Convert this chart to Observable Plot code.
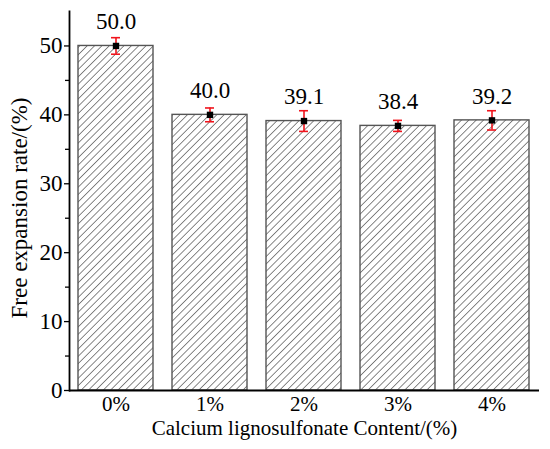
<!DOCTYPE html>
<html>
<head>
<meta charset="utf-8">
<script src="https://cdn.jsdelivr.net/npm/d3@7"></script>
<script src="https://cdn.jsdelivr.net/npm/@observablehq/plot@0.6"></script>
<style>
  body { margin: 0; background: #fff; }
</style>
</head>
<body>
<div id="chart"></div>
<script>
const contents = ['0%', '1%', '2%', '3%', '4%']
const rates = [50.0, 40.0, 39.1, 38.4, 39.2]
const errors = [1.2, 1.0, 1.5, 0.8, 1.4]
const yTicks = [0, 10, 20, 30, 40, 50]
const yMinor = [5, 15, 25, 35, 45]

const data = contents.map((c, i) => ({content: c, rate: rates[i], err: errors[i]}))

const font = 'Liberation Serif, Times New Roman, serif'

let chart = Plot.plot({
  width: 550,
  height: 449,
  marginLeft: 69,
  marginRight: 11,
  marginTop: 11,
  marginBottom: 59,
  x: {domain: contents, paddingInner: 0.2, paddingOuter: 0.1},
  y: {domain: [0, 55]},
  marks: [
    Plot.barY(data, {x: 'content', y: 'rate', fill: 'url(#hatch)', stroke: '#555', strokeWidth: 1.4}),
    // error bars
    Plot.ruleX(data, {x: 'content', y1: d => d.rate - d.err, y2: d => d.rate + d.err, stroke: '#f0141c', strokeWidth: 1.6}),
    Plot.tickY(data, {x: 'content', y: d => d.rate - d.err, stroke: '#f0141c', strokeWidth: 1.6, insetLeft: 33, insetRight: 33}),
    Plot.tickY(data, {x: 'content', y: d => d.rate + d.err, stroke: '#f0141c', strokeWidth: 1.6, insetLeft: 33, insetRight: 33}),
    Plot.dot(data, {x: 'content', y: 'rate', symbol: 'square', fill: '#000', r: 3.6}),
    Plot.text(data, {x: 'content', y: 'rate', text: d => d.rate.toFixed(1), dy: -24, fontSize: 23, fill: '#000'}),
    // axes
    Plot.axisY(yTicks, {tickSize: 5, tickPadding: 2, fontSize: 23, stroke: '#000', strokeWidth: 1.3, label: null}),
    Plot.axisY(yMinor, {tickSize: 4, text: null, label: null, stroke: '#000', strokeWidth: 1.3}),
    Plot.text(['Free expansion rate/(%)'], {frameAnchor: 'left', textAnchor: 'middle', rotate: -90, dx: -50, dy: 7, fontSize: 23, fill: '#000'}),
    Plot.axisX({tickSize: 0, tickPadding: 6, fontSize: 21,
      label: 'Calcium lignosulfonate Content/(%)', labelAnchor: 'center', labelArrow: 'none', labelOffset: 44}),
    Plot.ruleY([0], {stroke: '#000', strokeWidth: 1.8}),
    Plot.frame({anchor: 'left', stroke: '#000', strokeWidth: 1.8})
  ],
  style: {
    fontFamily: font,
    fontSize: '22px',
    color: '#000',
    background: '#fff'
  }
})

// hatch pattern for the bars
const defs = d3.select(chart).insert('defs', ':first-child')
const pat = defs.append('pattern')
  .attr('id', 'hatch')
  .attr('patternUnits', 'userSpaceOnUse')
  .attr('width', 5.2)
  .attr('height', 5.2)
  .attr('patternTransform', 'rotate(45)')
pat.append('rect').attr('width', 5.2).attr('height', 5.2).attr('fill', '#fff')
pat.append('line')
  .attr('x1', 0).attr('y1', 0).attr('x2', 0).attr('y2', 5.2)
  .attr('stroke', '#111').attr('stroke-width', 1)

d3.select('#chart').append(() => chart)
</script>
</body>
</html>
